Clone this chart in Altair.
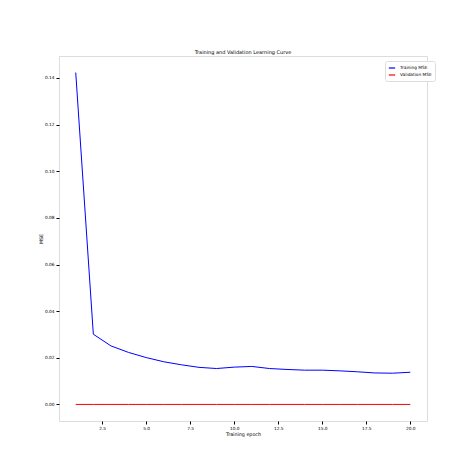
import altair as alt
import pandas as pd

epochs = list(range(1, 21))
train_mse = [0.1423, 0.0301, 0.0251, 0.0223, 0.0201, 0.0183, 0.0170, 0.0159, 0.0154, 0.0160,
             0.0163, 0.0154, 0.0150, 0.0147, 0.0147, 0.0144, 0.0140, 0.0135, 0.0134, 0.0138]
val_mse = [0.0] * 20
series_names = ["Training MSE", "Validation MSE"]
series_colors = ["blue", "red"]
x_ticks = [2.5, 5.0, 7.5, 10.0, 12.5, 15.0, 17.5, 20.0]
y_ticks = [0.00, 0.02, 0.04, 0.06, 0.08, 0.10, 0.12, 0.14]

rows = []
for e, t, v in zip(epochs, train_mse, val_mse):
    rows.append({"epoch": e, "mse": t, "series": series_names[0]})
    rows.append({"epoch": e, "mse": v, "series": series_names[1]})
df = pd.DataFrame(rows)

font = "DejaVu Sans"

chart = alt.Chart(df).mark_line(strokeWidth=1, clip=True).encode(
    x=alt.X("epoch:Q",
            scale=alt.Scale(domain=[0.05, 20.95], nice=False, zero=False),
            axis=alt.Axis(values=x_ticks, format=".1f", title="Training epoch",
                          grid=False, domain=False, tickColor="black", tickSize=3,
                          labelFontSize=4.3, labelColor="black", labelPadding=2,
                          titleFontSize=4.8, titleFontWeight="normal", titleColor="black",
                          titlePadding=1, labelFont=font, titleFont=font)),
    y=alt.Y("mse:Q",
            scale=alt.Scale(domain=[-0.0071, 0.1494], nice=False, zero=False),
            axis=alt.Axis(values=y_ticks, format=".2f", title="MSE",
                          grid=False, domain=False, tickColor="black", tickSize=3,
                          labelFontSize=4.3, labelColor="black", labelPadding=2,
                          titleFontSize=4.8, titleFontWeight="normal", titleColor="black",
                          titlePadding=1, labelFont=font, titleFont=font)),
    color=alt.Color("series:N",
                    scale=alt.Scale(domain=series_names, range=series_colors),
                    legend=alt.Legend(title=None, orient="none", legendX=326, legendY=5,
                                      symbolType="stroke", symbolSize=40, symbolStrokeWidth=1.2,
                                      labelFontSize=4.3, labelFont=font, labelColor="black",
                                      rowPadding=0, symbolOffset=0,
                                      strokeColor="#dddddd", padding=3,
                                      fillColor="white", cornerRadius=2)),
).properties(
    width=368,
    height=365,
    title=alt.TitleParams("Training and Validation Learning Curve", fontSize=5,
                          font=font, fontWeight="normal", color="black", offset=1),
    autosize=alt.AutoSizeParams(type="none"),
    padding={"left": 51, "top": 48, "right": 39, "bottom": 45},
).configure_view(
    stroke="#444444", strokeWidth=0.8
).configure(background="white")

chart.save("out.html", embed_options={"renderer": "svg", "actions": False})
